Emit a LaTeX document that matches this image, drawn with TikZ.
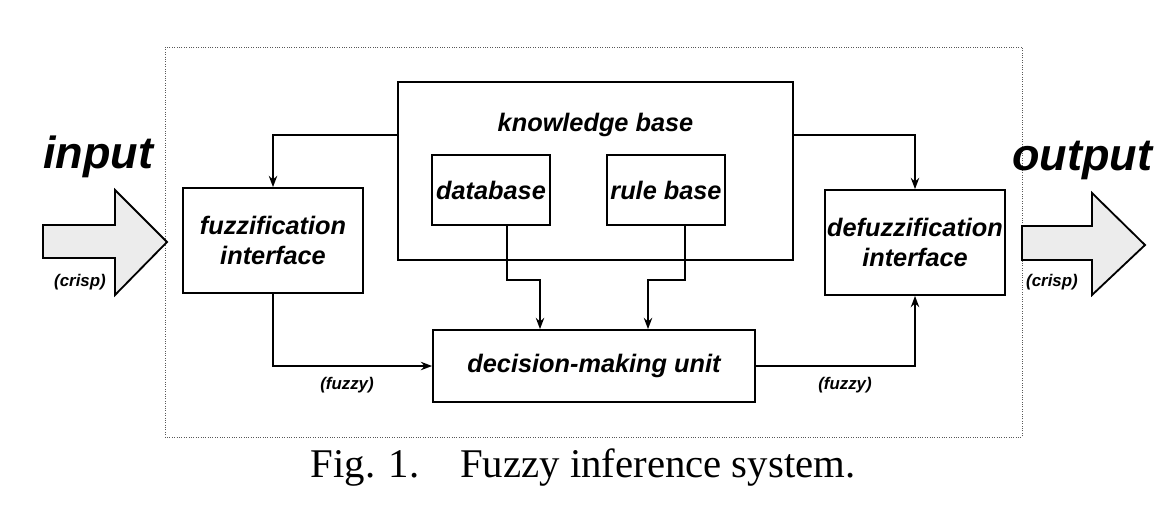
\documentclass[tikz,border=0pt]{standalone}
\usepackage{fontspec}
\setmainfont{Liberation Serif}
\newfontfamily\lsans{Liberation Sans}
\usetikzlibrary{arrows.meta}
\begin{document}
\begin{tikzpicture}[x=0.025cm,y=-0.025cm,
  box/.style={draw,line width=1.3pt,inner sep=0pt},
  lab/.style={font=\lsans\bfseries\itshape\fontsize{18}{21}\selectfont,align=center},
  small/.style={font=\lsans\bfseries\itshape\fontsize{12}{14}\selectfont},
  big/.style={font=\lsans\bfseries\itshape\fontsize{32}{36}\selectfont},
  con/.style={line width=1pt,-{Stealth[length=8pt,width=6pt]}},
  fat/.style={draw,line width=1.3pt,fill=gray!15,line join=miter}]
\useasboundingbox (0,0) rectangle (1174,509);
\draw[densely dotted,gray!70!black,line width=0.7pt] (165,47) rectangle (1022,437);
\node[box,minimum width=395*0.025cm,minimum height=178*0.025cm] (kb) at (595.5,171) {};
\node[lab] (kbt) at (595.5,125) {knowledge base};
\node[box,lab,minimum width=118*0.025cm,minimum height=70*0.025cm] (db) at (491,190) {database};
\node[box,lab,minimum width=118*0.025cm,minimum height=70*0.025cm] (rb) at (666,190) {rule base};
\node[box,lab,minimum width=180*0.025cm,minimum height=105*0.025cm] (fz) at (273,240.5) {fuzzification\\interface};
\node[box,minimum width=180*0.025cm,minimum height=105*0.025cm] (dfz) at (915,242.5) {};
\node[lab] at (dfz) {defuzzification\\interface};
\node[box,lab,minimum width=322*0.025cm,minimum height=72*0.025cm] (dm) at (594,366) {decision-making unit};
\coordinate (k1) at (273,135);
\coordinate (k2) at (915,135);
\draw[con] (kb.west |- k1) -- (k1) -- (fz.north);
\draw[con] (kb.east |- k2) -- (k2) -- (dfz.north);
\draw[con] (fz.south) |- (dm.west);
\coordinate (d1) at (915,366);
\draw[con] (dm.east) -- (d1) -- (dfz.south);
\coordinate (a1) at (507,280); \coordinate (a2) at (540,280);
\draw[con] (db.south -| a1) -- (a1) -- (a2) -- (a2 |- dm.north);
\coordinate (b1) at (685,280); \coordinate (b2) at (648,280);
\draw[con] (rb.south -| b1) -- (b1) -- (b2) -- (b2 |- dm.north);
\node[small] (f1) at (347,385) {(fuzzy)};
\node[small] (f2) at (845,385) {(fuzzy)};
\draw[fat] (43,225) -- (115,225) -- (115,190) -- (167,242) -- (115,295) -- (115,258) -- (43,258) -- cycle;
\draw[fat] (1022,226) -- (1092,226) -- (1092,193) -- (1145,245) -- (1092,295) -- (1092,260) -- (1022,260) -- cycle;
\node[big] (in) at (98,157) {input};
\node[big] (out) at (1082,160) {output};
\node[small] (c1) at (80,282) {(crisp)};
\node[small] (c2) at (1052,282) {(crisp)};
\node[font=\fontsize{29}{34}\selectfont] (cap) at (583,468) {Fig. 1.\quad Fuzzy inference system.};
\end{tikzpicture}
\end{document}
